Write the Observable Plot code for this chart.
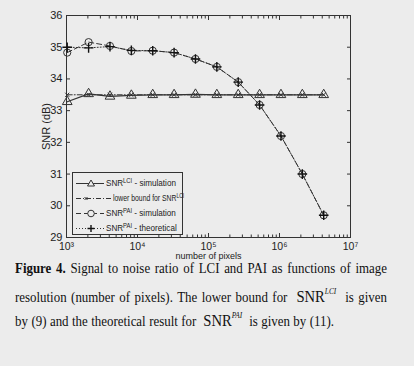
<!DOCTYPE html>
<html><head><meta charset="utf-8">
<script src="https://cdn.jsdelivr.net/npm/d3@7"></script>
<script src="https://cdn.jsdelivr.net/npm/@observablehq/plot@0.6"></script>
<style>
html,body{margin:0;padding:0}
body{background:#ececec;width:414px;height:366px;overflow:hidden;position:relative;font-family:"Liberation Sans",Arial,sans-serif;color:#222}
#chart{position:absolute;left:0;top:0}
.legend{position:absolute;left:72px;top:172px;width:111px;height:63px;border:1px solid #333;background:#ececec;font-size:9px;box-sizing:border-box}
.legend .row{position:absolute;left:0;height:14px;display:flex;align-items:center;white-space:nowrap}
.legend svg{display:block;margin-right:0;flex:none}
.legend .txt{display:inline-block;transform-origin:left center}
.legend sup{font-size:6.5px;vertical-align:3.5px;line-height:0}
.cap{position:absolute;left:15px;font-family:"Liberation Serif","Times New Roman",serif;font-size:15px;line-height:15px;color:#111;white-space:nowrap;text-align:justify;text-align-last:justify;transform-origin:left center}
.cap .snr{font-size:17px;line-height:15px}
.cap .snr sup{font-size:8.5px;font-style:italic;vertical-align:8px;line-height:0}
</style></head><body>
<div id="chart"></div>
<div class="legend" id="legend"></div>
<div class="cap" data-w="372" style="top:261px"><b>Figure 4.</b> Signal to noise ratio of LCI and PAI as functions of image</div>
<div class="cap" data-w="372" style="top:289px">resolution (number of pixels). The lower bound for&nbsp; <span class="snr">SNR<sup>LCI</sup></span>&nbsp; is given</div>
<div class="cap" data-w="319" style="top:313px">by (9) and the theoretical result for&nbsp; <span class="snr">SNR<sup>PAI</sup></span>&nbsp; is given by (11).</div>
<script>
// number of pixels (x)
const pixels = [1024, 2048, 4096, 8192, 16384, 32768, 65536, 131072, 262144, 524288, 1048576, 2097152, 4194304];
// SNR series (dB)
const lciSim    = [33.28, 33.53, 33.45, 33.48, 33.50, 33.50, 33.51, 33.50, 33.50, 33.50, 33.50, 33.50, 33.50];
const lciBound  = [33.50, 33.50, 33.50, 33.50, 33.50, 33.50, 33.50, 33.50, 33.50, 33.50, 33.50, 33.50, 33.50];
const paiSim    = [34.83, 35.16, 35.04, 34.88, 34.89, 34.83, 34.63, 34.38, 33.90, 33.18, 32.20, 31.00, 29.70];
const paiTheory = [35.00, 34.98, 35.02, 34.90, 34.89, 34.83, 34.63, 34.38, 33.90, 33.18, 32.20, 31.00, 29.70];
// ticks
const yTicks = [29, 30, 31, 32, 33, 34, 35, 36];
const xMajor = [1e3, 1e4, 1e5, 1e6, 1e7];
const xLabels = {1000: "10³", 10000: "10⁴", 100000: "10⁵", 1000000: "10⁶", 10000000: "10⁷"};
const xMinor = [2,3,4,5,6,7,8,9].flatMap(m => [1e3, 1e4, 1e5, 1e6].map(d => m * d));
// legend
const seriesNames = [["SNR", "LCI", " - simulation"], ["lower bound for SNR", "LCI", ""], ["SNR", "PAI", " - simulation"], ["SNR", "PAI", " - theoretical"]];

const ink = "#333";
const mk = (vals) => pixels.map((p, i) => ({p, v: vals[i]}));
const dLciSim = mk(lciSim), dLciBound = mk(lciBound), dPaiSim = mk(paiSim), dPaiTh = mk(paiTheory);

const chart = Plot.plot({
  width: 414, height: 262,
  marginLeft: 66, marginRight: 64, marginTop: 15, marginBottom: 25,
  style: {background: "transparent", fontFamily: "Liberation Sans, Arial, sans-serif", fontSize: "10px", color: "#222"},
  x: {type: "log", domain: [1e3, 1e7]},
  y: {domain: [29, 36]},
  marks: [
    Plot.frame({stroke: ink}),
    Plot.axisY(yTicks, {anchor: "left", tickSize: -4, tickFormat: () => "", label: null, stroke: ink}),
    Plot.axisY(yTicks, {anchor: "right", tickSize: -4, tickFormat: () => "", label: null, stroke: ink}),
    Plot.axisY(yTicks, {anchor: "left", tickSize: 0, tickPadding: 4, fontSize: 11, label: "SNR (dB)", labelAnchor: "center", labelOffset: 24, labelArrow: "none"}),
    Plot.axisX(xMajor, {anchor: "bottom", tickSize: -4, tickFormat: () => "", label: null, stroke: ink}),
    Plot.axisX(xMajor, {anchor: "top", tickSize: -4, tickFormat: () => "", label: null, stroke: ink}),
    Plot.axisX(xMinor, {anchor: "bottom", tickSize: -2.5, tickFormat: () => "", label: null, stroke: ink}),
    Plot.axisX(xMinor, {anchor: "top", tickSize: -2.5, tickFormat: () => "", label: null, stroke: ink}),
    Plot.axisX(xMajor, {anchor: "bottom", tickSize: 0, tickPadding: 5, fontSize: 10.5, tickFormat: d => xLabels[Math.round(d)], label: null}),
    Plot.axisX(xMajor, {anchor: "bottom", tickSize: 0, tickFormat: () => "", fontSize: 9, label: "number of pixels", labelAnchor: "center", labelOffset: 21, labelArrow: "none"}),
    // lower bound LCI: dash-dot with x markers
    Plot.line(dLciBound, {x: "p", y: "v", stroke: ink, strokeWidth: 1, strokeDasharray: "5,2,1,2"}),
    Plot.dot(dLciBound, {x: "p", y: "v", symbol: "times", r: 2, stroke: ink, strokeWidth: 1}),
    // LCI simulation: solid with triangles
    Plot.line(dLciSim, {x: "p", y: "v", stroke: ink, strokeWidth: 1.2}),
    Plot.dot(dLciSim, {x: "p", y: "v", symbol: "triangle", r: 3.6, stroke: ink, fill: "none", strokeWidth: 1}),
    // PAI simulation: dashed with circles
    Plot.line(dPaiSim, {x: "p", y: "v", stroke: ink, strokeWidth: 1, strokeDasharray: "5,3"}),
    Plot.dot(dPaiSim, {x: "p", y: "v", symbol: "circle", r: 3.6, stroke: ink, fill: "none", strokeWidth: 1}),
    // PAI theoretical: dotted with plus
    Plot.line(dPaiTh, {x: "p", y: "v", stroke: ink, strokeWidth: 1, strokeDasharray: "1,2"}),
    Plot.dot(dPaiTh, {x: "p", y: "v", symbol: "plus", r: 3.2, stroke: "#111", strokeWidth: 1.4})
  ]
});
document.getElementById("chart").appendChild(chart);

// caption: horizontally condensed, justified lines
const capScale = 0.86;
document.querySelectorAll(".cap").forEach(el => {
  el.style.width = (+el.dataset.w / capScale) + "px";
  el.style.transform = `scaleX(${capScale})`;
});

// legend
const legendStyles = [
  {dash: null, sym: "tri", w: 33, mx: 18, scale: 0.9},
  {dash: "5,2,1,2", sym: "x", w: 40, mx: 13, scale: 0.76},
  {dash: "5,3", sym: "circ", w: 33, mx: 18, scale: 0.9},
  {dash: "1,2", sym: "plus", w: 33, mx: 18, scale: 0.9}
];
const leg = document.getElementById("legend");
seriesNames.forEach((s, i) => {
  const st = legendStyles[i];
  const row = document.createElement("div");
  row.className = "row";
  row.style.top = (3 + i * 15) + "px";
  const m = st.mx;
  let marker = "";
  if (st.sym === "tri") marker = `<path d="M${m},3 L${m+3.5},9 L${m-3.5},9 Z" fill="#ececec" stroke="${ink}"/>`;
  if (st.sym === "x") marker = `<path d="M${m-1.5},5 L${m+1.5},8 M${m+1.5},5 L${m-1.5},8" stroke="${ink}"/>`;
  if (st.sym === "circ") marker = `<circle cx="${m}" cy="6.5" r="3.3" fill="#ececec" stroke="${ink}"/>`;
  if (st.sym === "plus") marker = `<path d="M${m-3.5},6.5 L${m+3.5},6.5 M${m},3 L${m},10" stroke="#111" stroke-width="1.4"/>`;
  row.innerHTML = `<svg width="${st.w}" height="13"><line x1="3" y1="6.5" x2="${st.w - 2}" y2="6.5" stroke="${ink}" ${st.dash ? `stroke-dasharray="${st.dash}"` : ""}/>${marker}</svg><span class="txt" style="transform:scaleX(${st.scale})">${s[0]}<sup>${s[1]}</sup>${s[2]}</span>`;
  leg.appendChild(row);
});
</script>
</body></html>
